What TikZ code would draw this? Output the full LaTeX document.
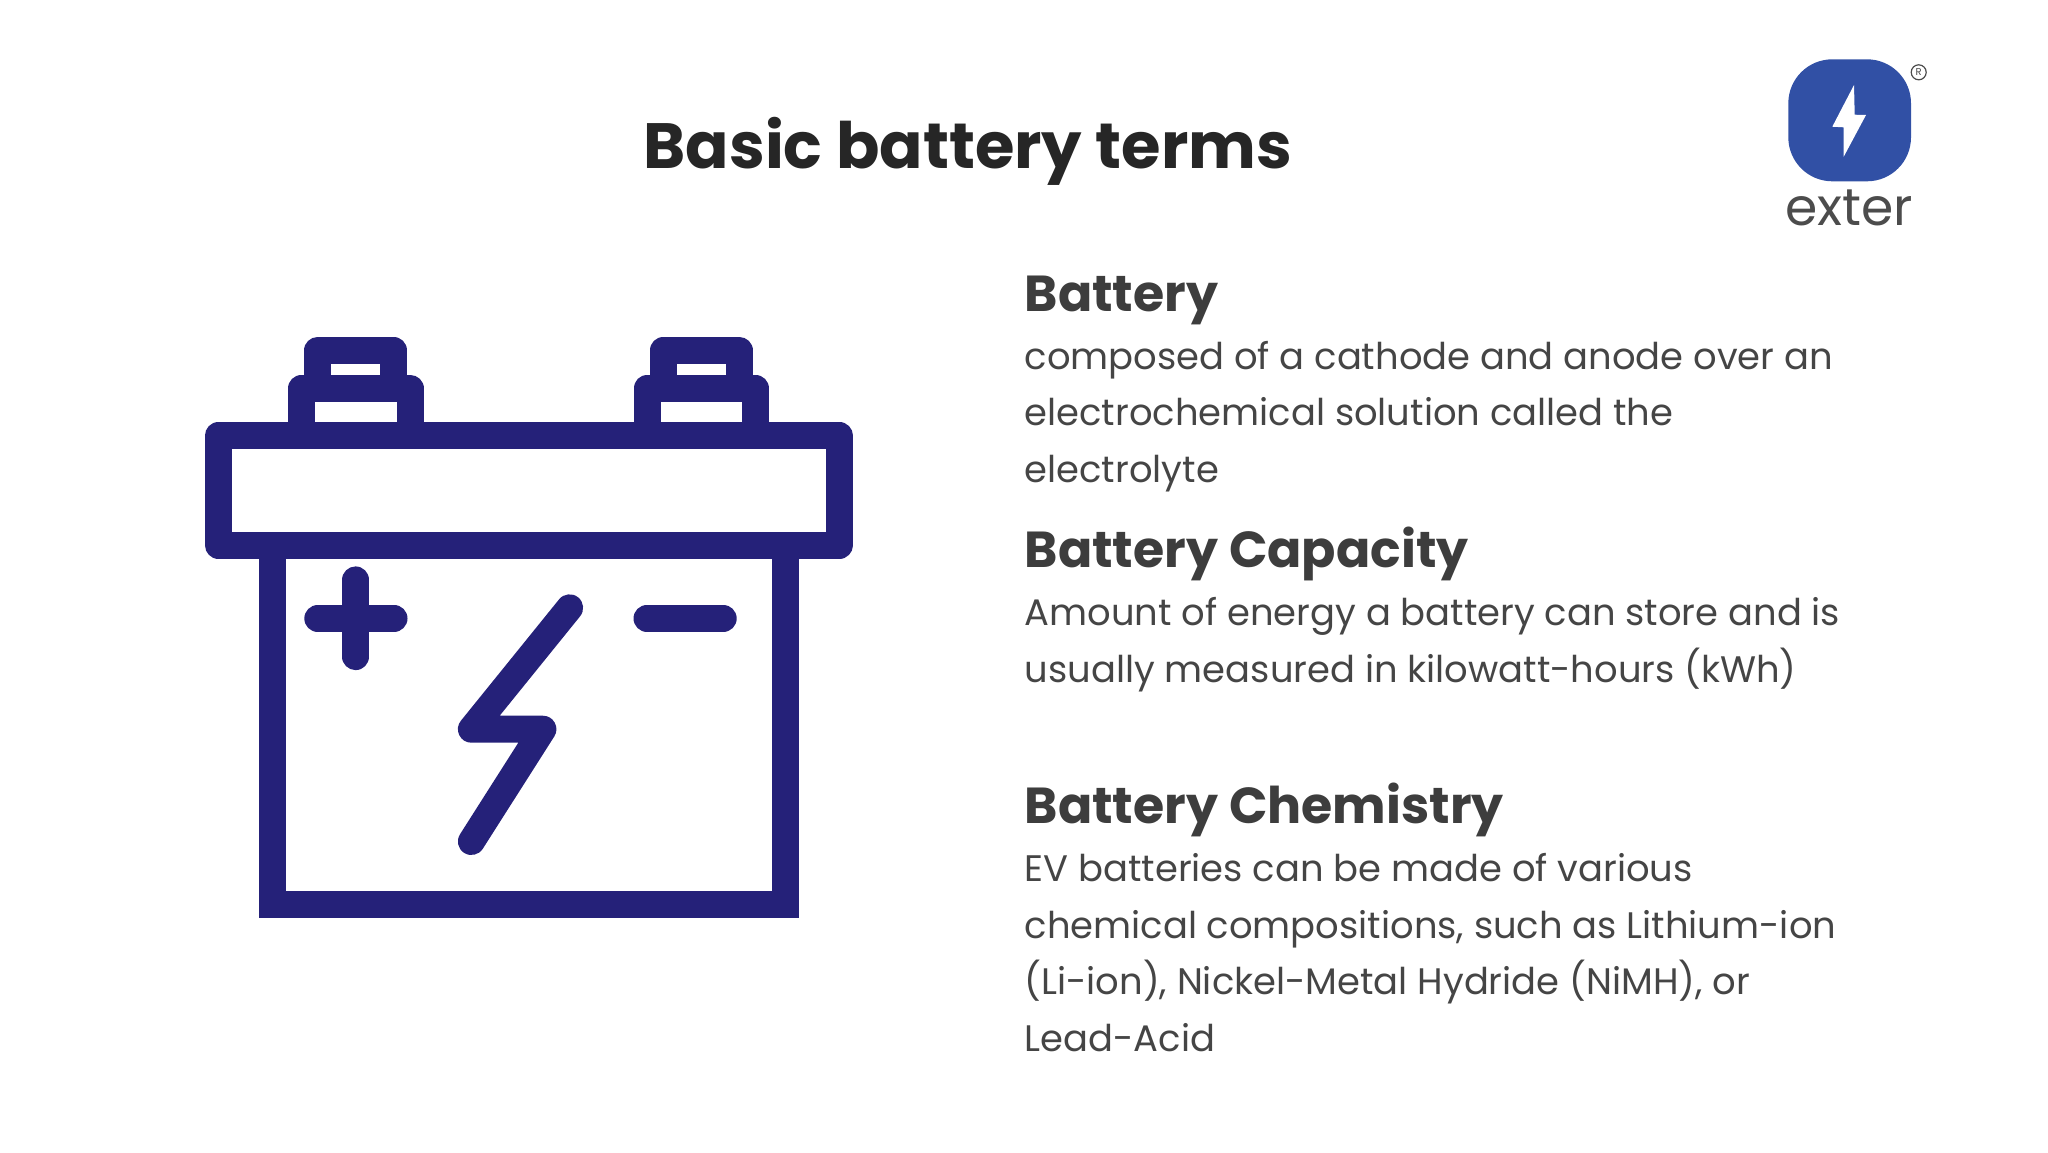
\documentclass[tikz,border=0pt]{standalone}
\usepackage{fontspec}
\setmainfont{Poppins}
\usepackage{xcolor}
\usetikzlibrary{positioning}
\definecolor{iconblue}{HTML}{252179}
\definecolor{logoblue}{HTML}{3150A5}
\definecolor{headgray}{HTML}{3D3D3D}
\definecolor{bodygray}{HTML}{454545}

\begin{document}
\begin{tikzpicture}[
    x=1pt, y=-1pt,
    iconline/.style={draw=iconblue, line width=27pt, line join=round},
    iconround/.style={iconline, line cap=round},
    heading/.style={anchor=base west, inner sep=0pt, text=headgray, font=\fontsize{50.6}{56}\selectfont\bfseries},
    bodytext/.style={anchor=base west, inner sep=0pt, align=left, text=bodygray, font=\fontsize{36.9}{56.5}\selectfont}
]
    \useasboundingbox (0,0) rectangle (2048,1152);

    % Title
    \node[anchor=base, inner sep=0pt, text=black!85, font=\fontsize{64}{70}\selectfont\bfseries] (Title) at (968,168.5) {Basic battery terms};

    % Battery body, lid and terminals
    \draw[iconline, line join=miter] (272.7,545) -- (272.7,904.5) -- (785.4,904.5) -- (785.4,545);
    \foreach \dx in {0,345.4} {
        \draw[iconline] ([xshift=\dx]301.6,436) -- ([xshift=\dx]301.6,388.3) -- ([xshift=\dx]410,388.3) -- ([xshift=\dx]410,436);
        \draw[iconline] ([xshift=\dx]317.8,388.3) -- ([xshift=\dx]317.8,350.3) -- ([xshift=\dx]393.6,350.3) -- ([xshift=\dx]393.6,388.3);
    }
    \draw[iconline] (218.2,435.8) rectangle (839.4,545);

    % Plus, minus, bolt
    \draw[iconround] (317.8,618.4) -- (394,618.4);
    \draw[iconround] (355.7,579.9) -- (355.7,656.6);
    \draw[iconround] (647,618.4) -- (723.2,618.4);
    \draw[iconround] (569.6,607.8) -- (471.4,729.2) -- (542.9,729.2) -- (471.4,841.5);

    % Logo
    \fill[logoblue, rounded corners=44pt] (1788.3,59.3) rectangle (1911,181.3);
    \fill[white] (1854,85) -- (1832.3,126.7) -- (1843.7,127.3) -- (1843.7,156.7) -- (1866,115) -- (1854.7,114.7) -- cycle;
    \node[anchor=base, inner sep=0pt, text=black!70, font=\fontsize{52}{52}\selectfont] (Logo) at (1849.5,225.5) {exter};
    \node[circle, draw=black!70, line width=1.2pt, minimum size=15pt, inner sep=0pt, text=black!70, font=\fontsize{10}{10}\selectfont] (Reg) at (1918.7,72.3) {R};

    % Terms
    \node[heading] (Battery) at (1024.5,311) {Battery};
    \node[bodytext] (BatteryText) at (1024.5,482) {composed of a cathode and anode over an\\electrochemical solution called the\\electrolyte};
    \node[heading] (Capacity) at (1024.5,567) {Battery Capacity};
    \node[bodytext] (CapacityText) at (1024.5,682) {Amount of energy a battery can store and is\\usually measured in kilowatt-hours (kWh)};
    \node[heading] (Chemistry) at (1024.5,823) {Battery Chemistry};
    \node[bodytext] (ChemistryText) at (1024.5,1051) {EV batteries can be made of various\\chemical compositions, such as Lithium-ion\\(Li-ion), Nickel-Metal Hydride (NiMH), or\\Lead-Acid};
\end{tikzpicture}
\end{document}
